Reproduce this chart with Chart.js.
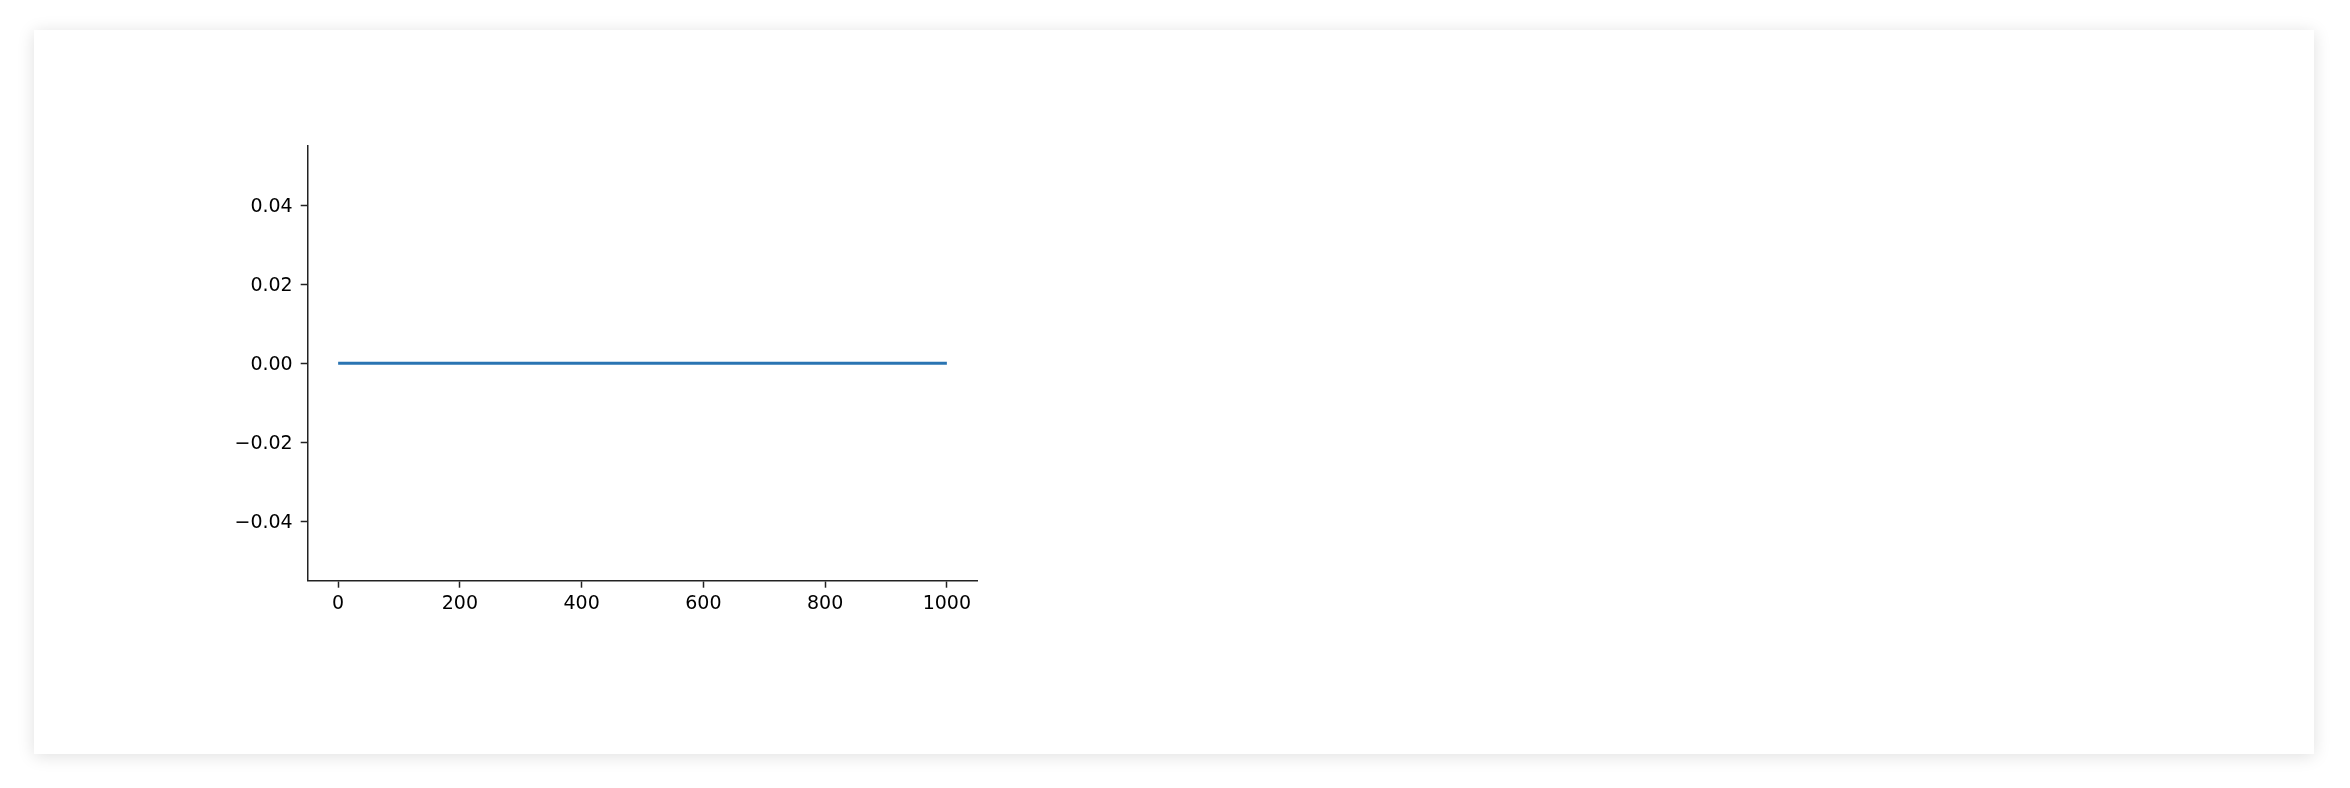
<!DOCTYPE html>
<html>
<head>
<meta charset="utf-8">
<script src="https://cdn.jsdelivr.net/npm/chart.js@4"></script>
<style>
    html, body { margin: 0; padding: 0; background: #ffffff; overflow: hidden; }
    #card {
        position: absolute; left: 34px; top: 30px; width: 2280px; height: 724px;
        background: #ffffff; box-shadow: 0 2px 16px rgba(0, 0, 0, 0.13);
    }
    #chart { position: absolute; left: 0; top: 0; }
</style>
</head>
<body>
<div id="card"></div>
<canvas id="chart" width="2350" height="788"></canvas>
<script>
// ===================== DATA =====================
const xValues = [0, 200, 400, 600, 800, 1000];
const yValues = [0, 0, 0, 0, 0, 0];
const xTicks = [0, 200, 400, 600, 800, 1000];
const yTicks = [-0.04, -0.02, 0, 0.02, 0.04];

// ===================== LAYOUT =====================
const AREA = { left: 307.7, top: 146, right: 977.3, bottom: 580.7 };
const W = 2350, H = 788;

const FONT = { family: "'DejaVu Sans', sans-serif", size: 19 };
const AXIS_COLOR = "#222222";

function fmtY(v) {
    return v.toFixed(2).replace("-", "\u2212");
}

const points = xValues.map((x, i) => ({ x, y: yValues[i] }));

new Chart(document.getElementById("chart").getContext("2d"), {
    type: "line",
    data: {
        datasets: [{
            data: points,
            borderColor: "#2a74b2",
            borderWidth: 3,
            pointRadius: 0,
            fill: false,
            tension: 0,
        }],
    },
    options: {
        responsive: false,
        animation: false,
        devicePixelRatio: 1,
        layout: {
            padding: { left: 0, top: AREA.top, right: W - AREA.right, bottom: 0 },
        },
        plugins: {
            legend: { display: false },
            tooltip: { enabled: false },
        },
        scales: {
            x: {
                type: "linear",
                min: -50,
                max: 1050,
                afterFit: s => { s.height = H - AREA.bottom; },
                afterBuildTicks: s => { s.ticks = xTicks.map(v => ({ value: v })); },
                grid: {
                    drawOnChartArea: false,
                    drawTicks: true,
                    tickLength: 7,
                    tickWidth: 1.5,
                    tickColor: AXIS_COLOR,
                },
                border: { display: true, color: AXIS_COLOR, width: 1.5 },
                ticks: {
                    font: FONT,
                    color: "#000",
                    padding: 5,
                    maxRotation: 0,
                    autoSkip: false,
                    callback: v => String(v),
                },
            },
            y: {
                type: "linear",
                min: -0.055,
                max: 0.055,
                afterFit: s => { s.width = AREA.left; },
                afterBuildTicks: s => { s.ticks = yTicks.map(v => ({ value: v })); },
                grid: {
                    drawOnChartArea: false,
                    drawTicks: true,
                    tickLength: 7,
                    tickWidth: 1.5,
                    tickColor: AXIS_COLOR,
                },
                border: { display: true, color: AXIS_COLOR, width: 1.5 },
                ticks: {
                    font: FONT,
                    color: "#000",
                    padding: 8,
                    labelOffset: 1.5,
                    autoSkip: false,
                    callback: v => fmtY(v),
                },
            },
        },
    },
});
</script>
</body>
</html>
